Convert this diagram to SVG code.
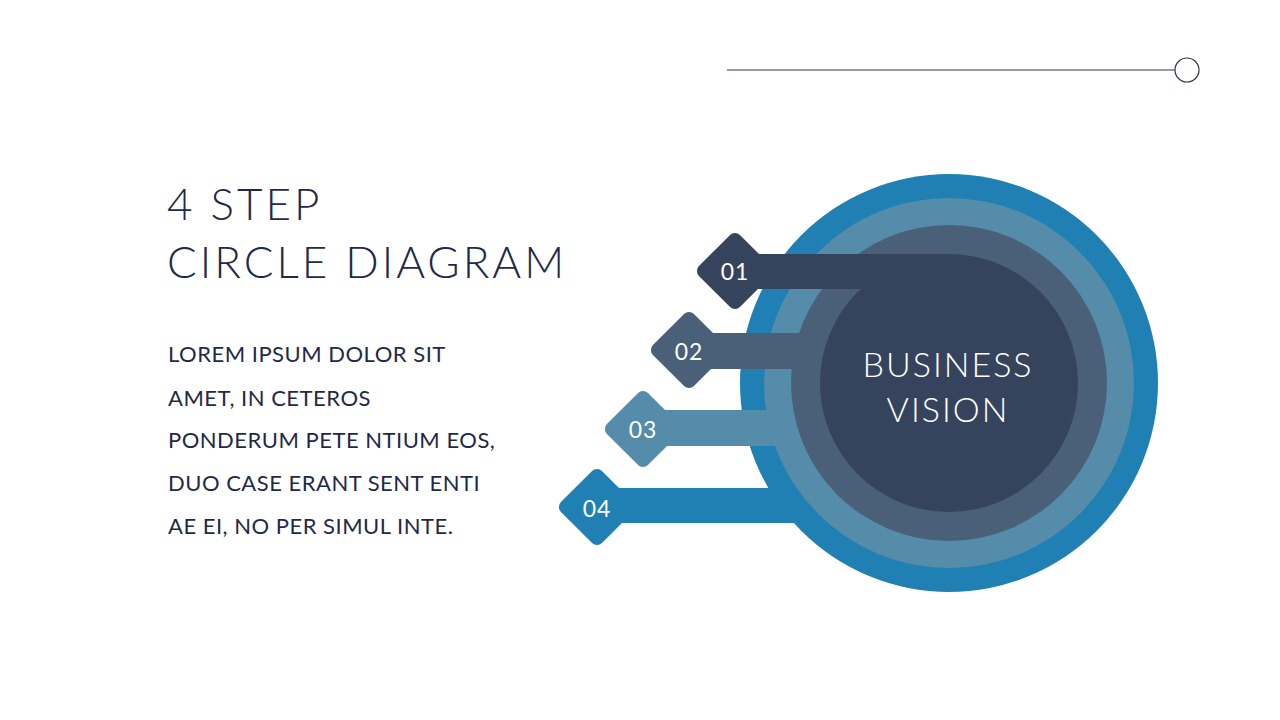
<svg xmlns="http://www.w3.org/2000/svg" width="1280" height="720" viewBox="0 0 1280 720">
<style>
.t{font-family:Lato,"Open Sans",sans-serif;fill:#1f2a48}
.n{font-family:Lato,sans-serif;fill:#fff;font-size:23px;text-anchor:middle;letter-spacing:1px}
</style>
<rect width="1280" height="720" fill="#fff"/>
<g id="deco"><line x1="727" y1="70" x2="1175" y2="70" stroke="#2a3550" stroke-width="1.2"/><circle cx="1187" cy="70" r="12" fill="#fff" stroke="#2a3550" stroke-width="1.2"/></g>
<g id="title"><text class="t" x="167" y="220" font-size="44" font-weight="300" letter-spacing="3">4 STEP</text><text class="t" x="167" y="278" font-size="44" font-weight="300" letter-spacing="3">CIRCLE DIAGRAM</text></g>
<g id="body" class="t" font-size="22" letter-spacing="0.5"><text x="168" y="362">LOREM IPSUM DOLOR SIT</text><text x="168" y="406">AMET, IN CETEROS</text><text x="168" y="448">PONDERUM PETE NTIUM EOS,</text><text x="168" y="491">DUO CASE ERANT SENT ENTI</text><text x="168" y="534">AE EI, NO PER SIMUL INTE.</text></g>
<g id="connectors">
<circle cx="949" cy="383" r="209" fill="#2080b3"/>
<rect x="597" y="488" width="352" height="35" fill="#2080b3"/>
<circle cx="949" cy="383" r="185" fill="#558ca9"/>
<rect x="643" y="410" width="306" height="36" fill="#558ca9"/>
<circle cx="949" cy="383" r="158" fill="#4a6078"/>
<rect x="689" y="333" width="260" height="36" fill="#4a6078"/>
<circle cx="949" cy="383" r="129" fill="#35445c"/>
<rect x="735" y="254" width="214" height="35" fill="#35445c"/>
</g>
<g id="n01"><rect x="-29" y="-29" width="58" height="58" rx="7" fill="#35445c" transform="translate(735 271) rotate(45)"/><text class="n" x="735" y="280">01</text></g>
<g id="n02"><rect x="-29" y="-29" width="58" height="58" rx="7" fill="#4a6078" transform="translate(689 350) rotate(45)"/><text class="n" x="689" y="360">02</text></g>
<g id="n03"><rect x="-29" y="-29" width="58" height="58" rx="7" fill="#558ca9" transform="translate(643 429) rotate(45)"/><text class="n" x="643" y="438">03</text></g>
<g id="n04"><rect x="-29" y="-29" width="58" height="58" rx="7" fill="#2080b3" transform="translate(597 507) rotate(45)"/><text class="n" x="597" y="517">04</text></g>
<g id="center"><text x="948" y="377" font-family="Lato,sans-serif" font-size="34" font-weight="300" fill="#fff" text-anchor="middle" letter-spacing="2">BUSINESS</text><text x="948" y="422" font-family="Lato,sans-serif" font-size="34" font-weight="300" fill="#fff" text-anchor="middle" letter-spacing="2">VISION</text></g>
</svg>
